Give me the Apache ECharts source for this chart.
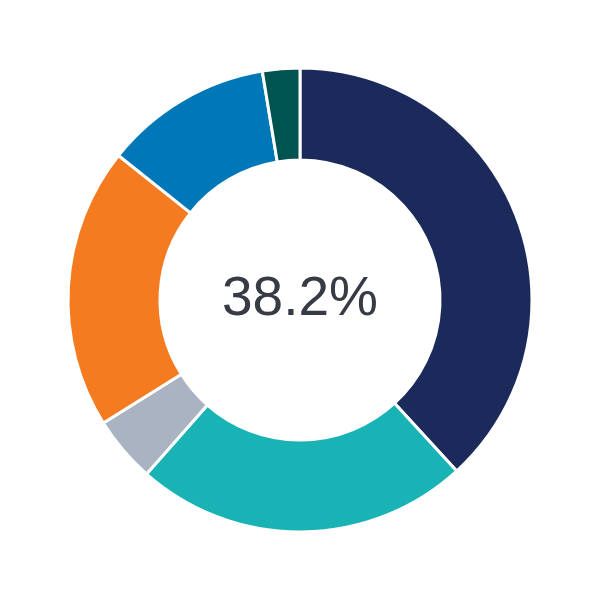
<!DOCTYPE html>
<html><head><meta charset="utf-8">
<script src="https://cdn.jsdelivr.net/npm/echarts@6/dist/echarts.min.js"></script>
<style>html,body{margin:0;padding:0;background:#fff}#c{width:600px;height:600px}</style>
</head><body><div id="c"></div>
<script>
const categories = ['A','B','C','D','E','F'];
const values = [38.2, 23.3, 4.6, 19.6, 11.7, 2.6];
const colors = ['#1b2a5a','#1ab3b5','#a9b3c1','#f47b20','#0077b6','#005450'];
const centerLabel = '38.2%';

const chart = echarts.init(document.getElementById('c'));
chart.setOption({
  animation:false,
  backgroundColor:'#ffffff',
  title:{text:centerLabel,left:'center',top:'middle',
    textStyle:{fontFamily:'Liberation Sans',fontSize:55,fontWeight:'normal',color:'#363b46'}},
  series:[{
    type:'pie',
    center:[300,300],
    radius:[140,232],
    startAngle:90,
    clockwise:true,
    label:{show:false},
    labelLine:{show:false},
    itemStyle:{borderColor:'#ffffff',borderWidth:3},
    data: categories.map((c,i)=>({name:c,value:values[i],itemStyle:{color:colors[i]}}))
  }]
});
</script></body></html>
